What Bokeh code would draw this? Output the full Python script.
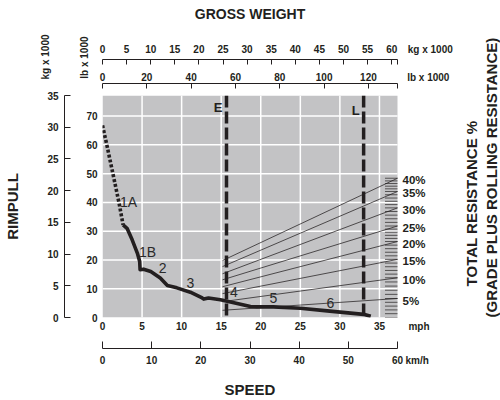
import json
import numpy as np
from math import pi
from bokeh.plotting import figure
from bokeh.models import (Range1d, LinearAxis, FixedTicker, LabelSet, Title,
                          ColumnDataSource, Span, BoxAnnotation, CustomJSTickFormatter)
from bokeh.core.properties import value
from bokeh.embed import file_html
from bokeh.resources import INLINE

# ---------------- data ----------------
speed_max_mph = 37.28
speed_max_kmh = 60
rimpull_max_klb = 77.16
rimpull_max_kkg = 35
weight_max_kkg = 61.2
weight_max_klb = 133.1

mph_ticks = [0, 5, 10, 15, 20, 25, 30, 35]
kmh_ticks = [0, 10, 20, 30, 40, 50, 60]
weight_kg_ticks = [0, 5, 10, 15, 20, 25, 30, 35, 40, 45, 50, 55, 60]
weight_lb_ticks = [0, 20, 40, 60, 80, 100, 120]
rimpull_lb_ticks = [0, 10, 20, 30, 40, 50, 60, 70]
rimpull_kg_ticks = [0, 5, 10, 15, 20, 25, 30, 35]
grid_x = [5, 10, 15, 20, 25, 30, 35]
grid_y = [10, 20, 30, 40, 50, 60, 70]

# gear 1A (dotted)
dotted_mph = [0.0, 0.6, 1.4, 2.1, 2.6]
dotted_klb = [66.8, 59.3, 48.9, 39.7, 32.2]

# rimpull curve (solid)
curve_mph = [2.6, 3.1, 3.75, 4.4, 4.7, 4.75, 5.2, 6.1, 7.3, 8.2, 9.4, 11.1,
             12.6, 12.8, 13.4, 14.9, 16.6, 18.7, 19.5, 21.6, 25.0, 28.4,
             33.0, 33.9]
curve_klb = [32.2, 31.0, 27.0, 22.4, 19.5, 16.6, 16.8, 16.0, 13.7, 11.1,
             10.3, 8.8, 6.8, 6.4, 6.8, 6.2, 5.1, 3.8, 3.7, 3.7, 3.2, 2.3,
             1.1, 0.4]

gear_labels = ["1A", "1B", "2", "3", "4", "5", "6"]
gear_mph = [3.3, 5.7, 7.6, 11.1, 16.6, 21.6, 28.8]
gear_klb = [40.1, 22.8, 17.3, 12.1, 8.7, 6.9, 5.2]

limit_labels = ["E", "L"]
limit_mph = [15.67, 33.0]
limit_label_klb = [73.0, 72.0]

resist_labels = ["5%", "10%", "15%", "20%", "25%", "30%", "35%", "40%"]
resist_pct = [5, 10, 15, 20, 25, 30, 35, 40]
resist_start_mph = 15.17
resist_start_klb = [2.5, 5.5, 8.3, 10.7, 13.1, 15.2, 17.7, 19.8]
resist_end_klb = [6.6, 13.8, 20.2, 26.4, 31.8, 38.1, 43.8, 48.4]
hatch_start_mph = 35.7
hatch_pct = list(range(0, 41))

# unit captions written at the end of the speed / weight scales
unit_mph_at, unit_kmh_at, unit_kg_at, unit_lb_at = 40, 64, 68, 147

INK = "#231f20"
SANS = "Liberation Sans"
GRAY = "#c3c3c5"

# ---------------- figure ----------------
FRAME_W, GRAY_W = 353, 295
ext = FRAME_W / GRAY_W

p = figure(frame_width=FRAME_W, frame_height=222,
           x_range=Range1d(0, speed_max_mph * ext), y_range=Range1d(0, rimpull_max_klb),
           x_axis_location=None, y_axis_location=None,
           output_backend="svg", toolbar_location=None,
           min_border_left=102, min_border_right=43,
           min_border_top=95, min_border_bottom=81,
           background_fill_color="white", border_fill_color="white",
           outline_line_color=None)
p.xgrid.visible = False
p.ygrid.visible = False

p.extra_x_ranges = {"kmh": Range1d(0, speed_max_kmh * ext),
                    "wkg": Range1d(0, weight_max_kkg * ext),
                    "wlb": Range1d(0, weight_max_klb * ext)}
p.extra_y_ranges = {"rkg": Range1d(0, rimpull_max_kkg)}

EMPTY = CustomJSTickFormatter(code="return ''")


def no_ticks(ax):
    ax.major_tick_line_color = None
    ax.minor_tick_line_color = None
    ax.major_tick_in = 0
    ax.major_tick_out = 0
    ax.minor_tick_in = 0
    ax.minor_tick_out = 0


def labels_axis(ticks, standoff, overrides=None, size="10px", **kw):
    ax = LinearAxis(ticker=FixedTicker(ticks=ticks), **kw)
    ax.major_label_text_font = SANS
    ax.major_label_text_font_size = size
    ax.major_label_text_font_style = "bold"
    ax.major_label_text_color = INK
    ax.major_label_standoff = standoff
    ax.axis_line_color = None
    no_ticks(ax)
    if overrides:
        ax.major_label_overrides = overrides
    return ax


def text_axis(text, at, standoff, size, orientation=None, **kw):
    ax = labels_axis([at], standoff, size=f"{size}px", **kw)
    ax.formatter = CustomJSTickFormatter(code="return " + json.dumps(text))
    if orientation is not None:
        ax.major_label_orientation = orientation
    return ax


def line_axis(ticks, tick_in, bounds="auto", **kw):
    ax = LinearAxis(ticker=FixedTicker(ticks=ticks), formatter=EMPTY, bounds=bounds, **kw)
    no_ticks(ax)
    ax.axis_line_color = INK
    ax.axis_line_width = 1
    ax.major_tick_line_color = INK
    ax.major_tick_line_width = 1
    ax.major_tick_in = tick_in
    ax.major_label_standoff = 0
    ax.major_label_text_font_size = "1px"
    return ax


def spacer(size, at, **kw):
    ax = LinearAxis(ticker=FixedTicker(ticks=[at]), formatter=EMPTY, **kw)
    no_ticks(ax)
    ax.axis_line_color = None
    ax.major_tick_line_color = "white"
    ax.major_tick_out = size
    ax.major_label_standoff = 0
    ax.major_label_text_font_size = "1px"
    return ax


gray_mid_mph = speed_max_mph / 2

# ---- bottom: mph labels, spacer, km/h rule, km/h labels, SPEED
p.add_layout(labels_axis(mph_ticks + [unit_mph_at], 3, {unit_mph_at: "mph"}), "below")
p.add_layout(spacer(14, 44), "below")
p.add_layout(line_axis(kmh_ticks, 7, bounds=(0, speed_max_kmh), x_range_name="kmh"), "below")
p.add_layout(labels_axis(kmh_ticks + [unit_kmh_at], 6, {unit_kmh_at: "km/h"},
                         x_range_name="kmh"), "below")
p.add_layout(text_axis("SPEED", gray_mid_mph, 12, 15), "below")

# ---- top: spacer, lb rule, lb labels, spacer, kg rule, kg labels, GROSS WEIGHT
p.add_layout(spacer(12, 44), "above")
p.add_layout(line_axis(weight_lb_ticks + [weight_max_klb], 5, bounds=(0, weight_max_klb),
                       x_range_name="wlb"), "above")
p.add_layout(labels_axis(weight_lb_ticks + [unit_lb_at], 1, {unit_lb_at: "lb x 1000"},
                         x_range_name="wlb"), "above")
p.add_layout(spacer(9, 44), "above")
p.add_layout(line_axis(weight_kg_ticks + [weight_max_kkg], 5, bounds=(0, weight_max_kkg),
                       x_range_name="wkg"), "above")
p.add_layout(labels_axis(weight_kg_ticks + [unit_kg_at], 5, {unit_kg_at: "kg x 1000"},
                         x_range_name="wkg"), "above")
p.add_layout(text_axis("GROSS WEIGHT", gray_mid_mph, 19, 14), "above")


def unit_title(text, offset):
    return Title(text=text, align="right", vertical_align="bottom", offset=offset,
                 standoff=-13, text_font=SANS, text_font_size="10px",
                 text_font_style="bold", text_color=INK)


# ---- left: lb labels, unit, spacer, kg axis, unit, RIMPULL
p.add_layout(labels_axis(rimpull_lb_ticks, 5), "left")
p.add_layout(unit_title("lb x 1000", -59), "left")
p.add_layout(spacer(19, 38), "left")
ax_rkg = labels_axis(rimpull_kg_ticks, 6, y_range_name="rkg")
ax_rkg.axis_line_color = INK
ax_rkg.major_tick_line_color = INK
ax_rkg.major_tick_in = 6
p.add_layout(ax_rkg, "left")
p.add_layout(unit_title("kg x 1000", -61), "left")
rim = LinearAxis(ticker=FixedTicker(ticks=[38]), formatter=EMPTY, axis_label="RIMPULL")
no_ticks(rim)
rim.axis_line_color = None
rim.major_label_standoff = 0
rim.major_label_text_font_size = "1px"
rim.axis_label_standoff = 24
rim.axis_label_text_font = SANS
rim.axis_label_text_font_size = "15px"
rim.axis_label_text_font_style = "bold"
rim.axis_label_text_color = INK
p.add_layout(rim, "left")

# ---- right: resistance titles (start positions along the rimpull scale)
title_start_klb = [10.8, 0.0]
p.add_layout(text_axis("TOTAL RESISTANCE %", title_start_klb[0], 16, 15, orientation=pi / 2), "right")
p.add_layout(text_axis("(GRADE PLUS ROLLING RESISTANCE)", title_start_klb[1], 0, 15,
                       orientation=pi / 2), "right")

# ---------------- chart area ----------------
p.add_layout(BoxAnnotation(left=0, right=speed_max_mph, fill_color=GRAY, fill_alpha=1,
                           line_color=None, level="underlay"))
p.segment(x0=grid_x, y0=[0] * len(grid_x), x1=grid_x, y1=[rimpull_max_klb] * len(grid_x),
          line_color="white", line_width=1.5)
p.segment(x0=[0] * len(grid_y), y0=grid_y, x1=[speed_max_mph] * len(grid_y), y1=grid_y,
          line_color="white", line_width=1.5)

# total resistance lines
p.segment(x0=[resist_start_mph] * len(resist_pct), y0=resist_start_klb,
          x1=[speed_max_mph] * len(resist_pct), y1=resist_end_klb,
          line_color=INK, line_width=0.75)

# 1 % scale marks between the labelled resistance lines
hatch_klb = np.interp(hatch_pct, [0] + resist_pct, [0] + resist_end_klb)
p.segment(x0=[hatch_start_mph] * len(hatch_pct), y0=hatch_klb,
          x1=[speed_max_mph] * len(hatch_pct), y1=hatch_klb,
          line_color=INK, line_width=0.7)

for xm in limit_mph:
    p.add_layout(Span(location=xm, dimension="height", line_color=INK,
                      line_width=3.5, line_dash="12 4"))

p.line(dotted_mph, dotted_klb, line_color=INK, line_width=3.6, line_dash="3 2")
p.line(curve_mph, curve_klb, line_color=INK, line_width=3.6, line_join="round")

p.add_layout(LabelSet(x="x", y="y", text="t",
                      source=ColumnDataSource(dict(x=gear_mph, y=gear_klb, t=gear_labels)),
                      text_font=value(SANS), text_font_size=value("14px"),
                      text_color=value("#2a2a2a"), text_align=value("center"),
                      text_baseline=value("middle")))

p.add_layout(LabelSet(x="x", y="y", text="t",
                      source=ColumnDataSource(dict(x=limit_mph, y=limit_label_klb, t=limit_labels)),
                      text_font=value(SANS), text_font_size=value("13px"),
                      text_font_style=value("bold"), x_offset=value(-4),
                      text_color=value(INK), text_align=value("right"),
                      text_baseline=value("middle")))

p.add_layout(LabelSet(x="x", y="y", text="t",
                      source=ColumnDataSource(dict(x=[speed_max_mph] * len(resist_labels),
                                                   y=resist_end_klb, t=resist_labels)),
                      text_font=value(SANS), text_font_size=value("11.5px"),
                      text_font_style=value("bold"), x_offset=value(5), y_offset=value(-2),
                      text_color=value(INK), text_align=value("left"),
                      text_baseline=value("middle")))

open("out.html", "w").write(file_html(p, INLINE))
